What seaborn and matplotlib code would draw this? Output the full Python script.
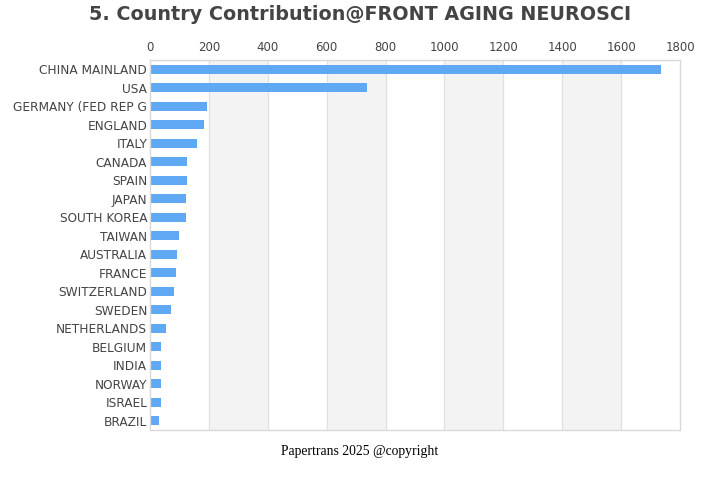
import matplotlib
matplotlib.use("Agg")
import matplotlib.pyplot as plt
import seaborn as sns
import pandas as pd

# Country contribution counts
countries = ["CHINA MAINLAND", "USA", "GERMANY (FED REP G", "ENGLAND", "ITALY",
             "CANADA", "SPAIN", "JAPAN", "SOUTH KOREA", "TAIWAN", "AUSTRALIA",
             "FRANCE", "SWITZERLAND", "SWEDEN", "NETHERLANDS", "BELGIUM",
             "INDIA", "NORWAY", "ISRAEL", "BRAZIL"]
counts = [1735, 736, 195, 182, 161, 124, 124, 121, 121, 100, 93, 87, 80, 73,
          53, 39, 39, 39, 36, 32]
x_ticks = [0, 200, 400, 600, 800, 1000, 1200, 1400, 1600, 1800]

df = pd.DataFrame({"country": countries, "count": counts})

sns.set_style("white")
plt.rcParams["font.family"] = ["DejaVu Sans"]

fig = plt.figure(figsize=(7.2, 4.8), dpi=100)
ax = fig.add_axes([150 / 720, 1 - 430 / 480, 530 / 720, 370 / 480])

# alternating shaded bands between gridlines
for i in range(1, len(x_ticks) - 1, 2):
    ax.axvspan(x_ticks[i], x_ticks[i + 1], color="#f3f3f3", zorder=0)
for t in x_ticks[1:-1]:
    ax.axvline(t, color="#e0e0e0", lw=0.8, zorder=0.5)

sns.barplot(data=df, x="count", y="country", orient="h", color="#5fa8f3",
            width=0.46, saturation=1, linewidth=0, ax=ax, zorder=2)

ax.set_xlim(0, 1800)
ax.set_xticks(x_ticks)
ax.xaxis.tick_top()
ax.set_xlabel("")
ax.set_ylabel("")
ax.tick_params(axis="both", length=0, colors="#444444")
ax.tick_params(axis="x", labelsize=8.5, pad=4)
ax.tick_params(axis="y", labelsize=8.7, pad=2)
for s in ax.spines.values():
    s.set_color("#d9d9d9")
    s.set_linewidth(1)

fig.text(0.5, 1 - 14 / 480, "5. Country Contribution@FRONT AGING NEUROSCI",
         ha="center", va="center", fontsize=13.8, fontweight="bold", color="#444444")
fig.text(0.5, 1 - 452 / 480, "Papertrans 2025 @copyright", ha="center", va="center",
         fontsize=9.8, family="Liberation Serif", color="black")

fig.savefig("out.png", dpi=100)
